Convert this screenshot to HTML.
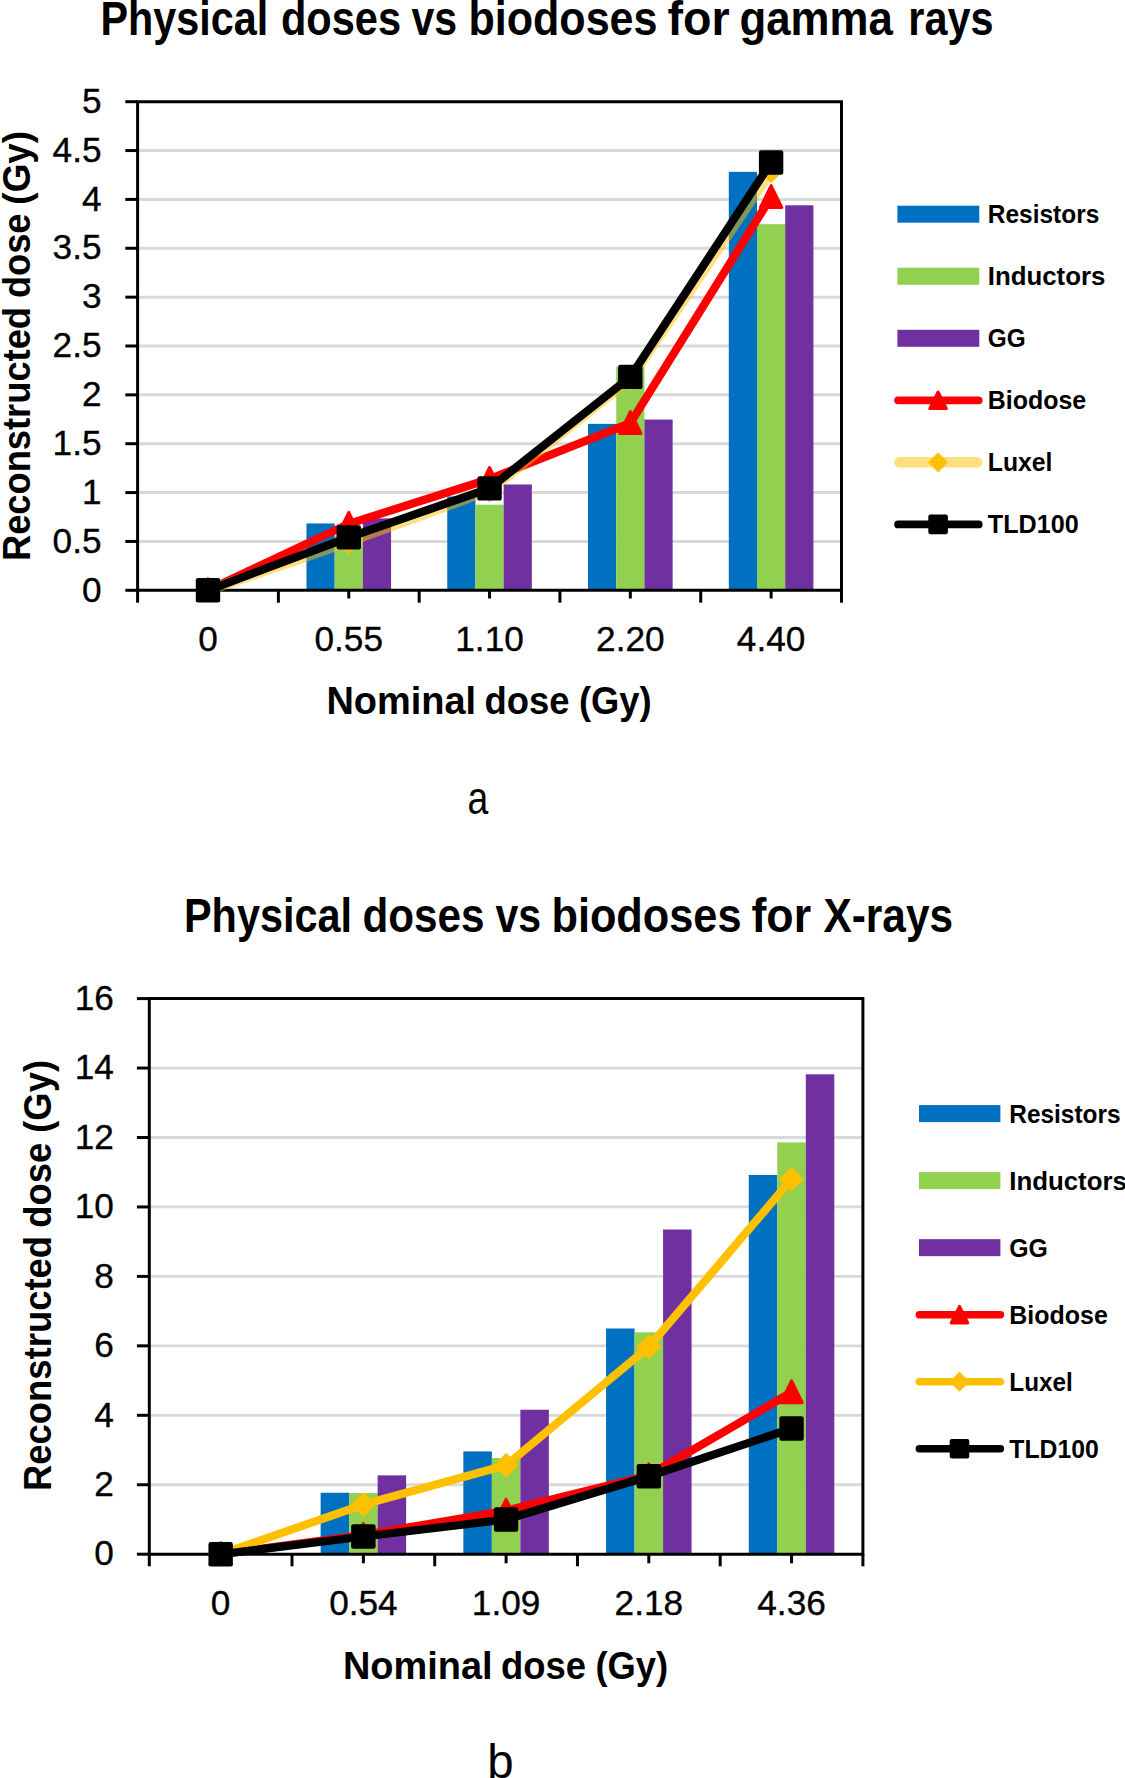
<!DOCTYPE html><html><head><meta charset="utf-8"><title>Physical doses vs biodoses</title><style>html,body{margin:0;padding:0;background:#fff;overflow:hidden}svg{display:block}</style></head><body>
<svg width="1125" height="1778" viewBox="0 0 1125 1778" font-family='"Liberation Sans", Arial, sans-serif' fill="#000">
<rect width="1125" height="1778" fill="#fff"/>
<line x1="137.6" y1="541.44" x2="841.5" y2="541.44" stroke="#D9D9D9" stroke-width="3"/>
<line x1="137.6" y1="492.58" x2="841.5" y2="492.58" stroke="#D9D9D9" stroke-width="3"/>
<line x1="137.6" y1="443.72" x2="841.5" y2="443.72" stroke="#D9D9D9" stroke-width="3"/>
<line x1="137.6" y1="394.86" x2="841.5" y2="394.86" stroke="#D9D9D9" stroke-width="3"/>
<line x1="137.6" y1="346" x2="841.5" y2="346" stroke="#D9D9D9" stroke-width="3"/>
<line x1="137.6" y1="297.14" x2="841.5" y2="297.14" stroke="#D9D9D9" stroke-width="3"/>
<line x1="137.6" y1="248.28" x2="841.5" y2="248.28" stroke="#D9D9D9" stroke-width="3"/>
<line x1="137.6" y1="199.42" x2="841.5" y2="199.42" stroke="#D9D9D9" stroke-width="3"/>
<line x1="137.6" y1="150.56" x2="841.5" y2="150.56" stroke="#D9D9D9" stroke-width="3"/>
<rect x="306.47" y="523.46" width="28.2" height="66.84" fill="#0070C0"/>
<rect x="447.25" y="496.49" width="28.2" height="93.81" fill="#0070C0"/>
<rect x="588.03" y="423.88" width="28.2" height="166.42" fill="#0070C0"/>
<rect x="728.81" y="171.86" width="28.2" height="418.44" fill="#0070C0"/>
<rect x="334.67" y="535.58" width="28.2" height="54.72" fill="#92D050"/>
<rect x="475.45" y="504.7" width="28.2" height="85.6" fill="#92D050"/>
<rect x="616.23" y="366.72" width="28.2" height="223.58" fill="#92D050"/>
<rect x="757.01" y="224.14" width="28.2" height="366.16" fill="#92D050"/>
<rect x="362.87" y="518.38" width="28.2" height="71.92" fill="#7030A0"/>
<rect x="503.65" y="484.47" width="28.2" height="105.83" fill="#7030A0"/>
<rect x="644.43" y="419.58" width="28.2" height="170.72" fill="#7030A0"/>
<rect x="785.21" y="205.28" width="28.2" height="385.02" fill="#7030A0"/>
<g stroke="#000" stroke-width="3" fill="none" stroke-linecap="butt">
<path d="M137.6 101.7H841.5V590.3H137.6Z"/>
<line x1="125.3" y1="590.3" x2="137.6" y2="590.3"/>
<line x1="125.3" y1="541.44" x2="137.6" y2="541.44"/>
<line x1="125.3" y1="492.58" x2="137.6" y2="492.58"/>
<line x1="125.3" y1="443.72" x2="137.6" y2="443.72"/>
<line x1="125.3" y1="394.86" x2="137.6" y2="394.86"/>
<line x1="125.3" y1="346" x2="137.6" y2="346"/>
<line x1="125.3" y1="297.14" x2="137.6" y2="297.14"/>
<line x1="125.3" y1="248.28" x2="137.6" y2="248.28"/>
<line x1="125.3" y1="199.42" x2="137.6" y2="199.42"/>
<line x1="125.3" y1="150.56" x2="137.6" y2="150.56"/>
<line x1="125.3" y1="101.7" x2="137.6" y2="101.7"/>
<line x1="137.6" y1="590.3" x2="137.6" y2="602.7"/>
<line x1="278.38" y1="590.3" x2="278.38" y2="602.7"/>
<line x1="419.16" y1="590.3" x2="419.16" y2="602.7"/>
<line x1="559.94" y1="590.3" x2="559.94" y2="602.7"/>
<line x1="700.72" y1="590.3" x2="700.72" y2="602.7"/>
<line x1="841.5" y1="590.3" x2="841.5" y2="602.7"/>
<line x1="207.99" y1="590.3" x2="207.99" y2="598.5"/>
<line x1="348.77" y1="590.3" x2="348.77" y2="598.5"/>
<line x1="489.55" y1="590.3" x2="489.55" y2="598.5"/>
<line x1="630.33" y1="590.3" x2="630.33" y2="598.5"/>
<line x1="771.11" y1="590.3" x2="771.11" y2="598.5"/>
</g>
<g>
<polyline points="207.99,590.3 348.77,523.85 489.55,479 630.33,423.1 771.11,197.17" fill="none" stroke="#FF0000" stroke-width="8.2" stroke-linejoin="round" stroke-linecap="round"/>
</g>
<polygon points="207.99,578.8 218.69,600.6 197.29,600.6" fill="#FF0000" stroke="#FF0000" stroke-width="3" stroke-linejoin="round"/>
<polygon points="348.77,512.35 359.47,534.15 338.07,534.15" fill="#FF0000" stroke="#FF0000" stroke-width="3" stroke-linejoin="round"/>
<polygon points="489.55,467.5 500.25,489.3 478.85,489.3" fill="#FF0000" stroke="#FF0000" stroke-width="3" stroke-linejoin="round"/>
<polygon points="630.33,411.6 641.03,433.4 619.63,433.4" fill="#FF0000" stroke="#FF0000" stroke-width="3" stroke-linejoin="round"/>
<polygon points="771.11,185.67 781.81,207.47 760.41,207.47" fill="#FF0000" stroke="#FF0000" stroke-width="3" stroke-linejoin="round"/>
<g opacity="0.5">
<polyline points="207.99,590.3 348.77,541.64 489.55,490.04 630.33,378.64 771.11,170.69" fill="none" stroke="#FFC000" stroke-width="10.5" stroke-linejoin="round" stroke-linecap="round"/>
</g>
<polygon points="207.99,578.7 219.59,590.3 207.99,601.9 196.39,590.3" fill="#FFC000" stroke="#FFC000" stroke-width="1.2" stroke-linejoin="round"/>
<polygon points="348.77,530.04 360.37,541.64 348.77,553.24 337.17,541.64" fill="#FFC000" stroke="#FFC000" stroke-width="1.2" stroke-linejoin="round"/>
<polygon points="489.55,478.44 501.15,490.04 489.55,501.64 477.95,490.04" fill="#FFC000" stroke="#FFC000" stroke-width="1.2" stroke-linejoin="round"/>
<polygon points="630.33,367.04 641.93,378.64 630.33,390.24 618.73,378.64" fill="#FFC000" stroke="#FFC000" stroke-width="1.2" stroke-linejoin="round"/>
<polygon points="771.11,159.09 782.71,170.69 771.11,182.29 759.51,170.69" fill="#FFC000" stroke="#FFC000" stroke-width="1.2" stroke-linejoin="round"/>
<g>
<polyline points="207.99,590.3 348.77,537.34 489.55,488.38 630.33,376.88 771.11,162.48" fill="none" stroke="#000" stroke-width="8.2" stroke-linejoin="round" stroke-linecap="round"/>
</g>
<rect x="195.79" y="578.1" width="24.4" height="24.4" rx="2.2" fill="#000"/>
<rect x="336.57" y="525.14" width="24.4" height="24.4" rx="2.2" fill="#000"/>
<rect x="477.35" y="476.18" width="24.4" height="24.4" rx="2.2" fill="#000"/>
<rect x="618.13" y="364.68" width="24.4" height="24.4" rx="2.2" fill="#000"/>
<rect x="758.91" y="150.28" width="24.4" height="24.4" rx="2.2" fill="#000"/>
<text x="101.5" y="601.5" font-size="35.2" font-weight="normal" text-anchor="end" stroke="#000" stroke-width="0.35">0</text>
<text x="101.5" y="552.64" font-size="35.2" font-weight="normal" text-anchor="end" stroke="#000" stroke-width="0.35">0.5</text>
<text x="101.5" y="503.78" font-size="35.2" font-weight="normal" text-anchor="end" stroke="#000" stroke-width="0.35">1</text>
<text x="101.5" y="454.92" font-size="35.2" font-weight="normal" text-anchor="end" stroke="#000" stroke-width="0.35">1.5</text>
<text x="101.5" y="406.06" font-size="35.2" font-weight="normal" text-anchor="end" stroke="#000" stroke-width="0.35">2</text>
<text x="101.5" y="357.2" font-size="35.2" font-weight="normal" text-anchor="end" stroke="#000" stroke-width="0.35">2.5</text>
<text x="101.5" y="308.34" font-size="35.2" font-weight="normal" text-anchor="end" stroke="#000" stroke-width="0.35">3</text>
<text x="101.5" y="259.48" font-size="35.2" font-weight="normal" text-anchor="end" stroke="#000" stroke-width="0.35">3.5</text>
<text x="101.5" y="210.62" font-size="35.2" font-weight="normal" text-anchor="end" stroke="#000" stroke-width="0.35">4</text>
<text x="101.5" y="161.76" font-size="35.2" font-weight="normal" text-anchor="end" stroke="#000" stroke-width="0.35">4.5</text>
<text x="101.5" y="112.9" font-size="35.2" font-weight="normal" text-anchor="end" stroke="#000" stroke-width="0.35">5</text>
<text x="207.99" y="651" font-size="35.2" font-weight="normal" text-anchor="middle" stroke="#000" stroke-width="0.35">0</text>
<text x="348.77" y="651" font-size="35.2" font-weight="normal" text-anchor="middle" stroke="#000" stroke-width="0.35">0.55</text>
<text x="489.55" y="651" font-size="35.2" font-weight="normal" text-anchor="middle" stroke="#000" stroke-width="0.35">1.10</text>
<text x="630.33" y="651" font-size="35.2" font-weight="normal" text-anchor="middle" stroke="#000" stroke-width="0.35">2.20</text>
<text x="771.11" y="651" font-size="35.2" font-weight="normal" text-anchor="middle" stroke="#000" stroke-width="0.35">4.40</text>
<rect x="897.4" y="205.7" width="81.9" height="17" fill="#0070C0"/>
<text x="987.8" y="223.2" font-size="26.5" font-weight="bold" text-anchor="start" textLength="111.5" lengthAdjust="spacingAndGlyphs">Resistors</text>
<rect x="897.4" y="267.74" width="81.9" height="17" fill="#92D050"/>
<text x="987.8" y="285.24" font-size="26.5" font-weight="bold" text-anchor="start" textLength="117.6" lengthAdjust="spacingAndGlyphs">Inductors</text>
<rect x="897.4" y="329.78" width="81.9" height="17" fill="#7030A0"/>
<text x="987.8" y="347.28" font-size="26.5" font-weight="bold" text-anchor="start" textLength="37.9" lengthAdjust="spacingAndGlyphs">GG</text>
<g><line x1="898.1" y1="400.32" x2="978.7" y2="400.32" stroke="#FF0000" stroke-width="7.8" stroke-linecap="round"/></g>
<polygon points="938.1,392.02 946.4,408.62 929.8,408.62" fill="#FF0000" stroke="#FF0000" stroke-width="3" stroke-linejoin="round"/>
<text x="987.8" y="409.32" font-size="26.5" font-weight="bold" text-anchor="start" textLength="98.4" lengthAdjust="spacingAndGlyphs">Biodose</text>
<g opacity="0.5"><line x1="899.45" y1="462.36" x2="977.35" y2="462.36" stroke="#FFC000" stroke-width="10.5" stroke-linecap="round"/></g>
<polygon points="938.1,453.16 947.3,462.36 938.1,471.56 928.9,462.36" fill="#FFC000" stroke="#FFC000" stroke-width="1.2" stroke-linejoin="round"/>
<text x="987.8" y="471.36" font-size="26.5" font-weight="bold" text-anchor="start" textLength="64.7" lengthAdjust="spacingAndGlyphs">Luxel</text>
<g><line x1="898.1" y1="524.4" x2="978.7" y2="524.4" stroke="#000" stroke-width="7.8" stroke-linecap="round"/></g>
<rect x="928.3" y="514.6" width="19.6" height="19.6" rx="2.2" fill="#000"/>
<text x="987.8" y="533.4" font-size="26.5" font-weight="bold" text-anchor="start" textLength="90.9" lengthAdjust="spacingAndGlyphs">TLD100</text>
<text x="477.85" y="813.5" font-size="45.5" font-weight="normal" text-anchor="middle" textLength="20.8" lengthAdjust="spacingAndGlyphs">a</text>
<line x1="149.3" y1="1484.75" x2="862.9" y2="1484.75" stroke="#D9D9D9" stroke-width="2.8"/>
<line x1="149.3" y1="1415.3" x2="862.9" y2="1415.3" stroke="#D9D9D9" stroke-width="2.8"/>
<line x1="149.3" y1="1345.85" x2="862.9" y2="1345.85" stroke="#D9D9D9" stroke-width="2.8"/>
<line x1="149.3" y1="1276.4" x2="862.9" y2="1276.4" stroke="#D9D9D9" stroke-width="2.8"/>
<line x1="149.3" y1="1206.95" x2="862.9" y2="1206.95" stroke="#D9D9D9" stroke-width="2.8"/>
<line x1="149.3" y1="1137.5" x2="862.9" y2="1137.5" stroke="#D9D9D9" stroke-width="2.8"/>
<line x1="149.3" y1="1068.05" x2="862.9" y2="1068.05" stroke="#D9D9D9" stroke-width="2.8"/>
<rect x="320.63" y="1492.74" width="28.5" height="61.46" fill="#0070C0"/>
<rect x="463.35" y="1451.41" width="28.5" height="102.79" fill="#0070C0"/>
<rect x="606.07" y="1328.49" width="28.5" height="225.71" fill="#0070C0"/>
<rect x="748.79" y="1175" width="28.5" height="379.2" fill="#0070C0"/>
<rect x="349.13" y="1493.08" width="28.5" height="61.12" fill="#92D050"/>
<rect x="491.85" y="1458.01" width="28.5" height="96.19" fill="#92D050"/>
<rect x="634.57" y="1332.31" width="28.5" height="221.89" fill="#92D050"/>
<rect x="777.29" y="1142.36" width="28.5" height="411.84" fill="#92D050"/>
<rect x="377.63" y="1475.37" width="28.5" height="78.83" fill="#7030A0"/>
<rect x="520.35" y="1409.74" width="28.5" height="144.46" fill="#7030A0"/>
<rect x="663.07" y="1229.52" width="28.5" height="324.68" fill="#7030A0"/>
<rect x="805.79" y="1074.3" width="28.5" height="479.9" fill="#7030A0"/>
<g stroke="#000" stroke-width="3" fill="none" stroke-linecap="butt">
<path d="M149.3 998.6H862.9V1554.2H149.3Z"/>
<line x1="136.9" y1="1554.2" x2="149.3" y2="1554.2"/>
<line x1="136.9" y1="1484.75" x2="149.3" y2="1484.75"/>
<line x1="136.9" y1="1415.3" x2="149.3" y2="1415.3"/>
<line x1="136.9" y1="1345.85" x2="149.3" y2="1345.85"/>
<line x1="136.9" y1="1276.4" x2="149.3" y2="1276.4"/>
<line x1="136.9" y1="1206.95" x2="149.3" y2="1206.95"/>
<line x1="136.9" y1="1137.5" x2="149.3" y2="1137.5"/>
<line x1="136.9" y1="1068.05" x2="149.3" y2="1068.05"/>
<line x1="136.9" y1="998.6" x2="149.3" y2="998.6"/>
<line x1="149.3" y1="1554.2" x2="149.3" y2="1566.3"/>
<line x1="292.02" y1="1554.2" x2="292.02" y2="1566.3"/>
<line x1="434.74" y1="1554.2" x2="434.74" y2="1566.3"/>
<line x1="577.46" y1="1554.2" x2="577.46" y2="1566.3"/>
<line x1="720.18" y1="1554.2" x2="720.18" y2="1566.3"/>
<line x1="862.9" y1="1554.2" x2="862.9" y2="1566.3"/>
<line x1="220.66" y1="1554.2" x2="220.66" y2="1563.3"/>
<line x1="363.38" y1="1554.2" x2="363.38" y2="1563.3"/>
<line x1="506.1" y1="1554.2" x2="506.1" y2="1563.3"/>
<line x1="648.82" y1="1554.2" x2="648.82" y2="1563.3"/>
<line x1="791.54" y1="1554.2" x2="791.54" y2="1563.3"/>
</g>
<g>
<polyline points="220.66,1554.2 363.38,1535.1 506.1,1510.79 648.82,1475.37 791.54,1392.38" fill="none" stroke="#FF0000" stroke-width="8.2" stroke-linejoin="round" stroke-linecap="round"/>
</g>
<polygon points="220.66,1542.7 231.36,1564.5 209.96,1564.5" fill="#FF0000" stroke="#FF0000" stroke-width="3" stroke-linejoin="round"/>
<polygon points="363.38,1523.6 374.08,1545.4 352.68,1545.4" fill="#FF0000" stroke="#FF0000" stroke-width="3" stroke-linejoin="round"/>
<polygon points="506.1,1499.29 516.8,1521.09 495.4,1521.09" fill="#FF0000" stroke="#FF0000" stroke-width="3" stroke-linejoin="round"/>
<polygon points="648.82,1463.87 659.52,1485.67 638.12,1485.67" fill="#FF0000" stroke="#FF0000" stroke-width="3" stroke-linejoin="round"/>
<polygon points="791.54,1380.88 802.24,1402.68 780.84,1402.68" fill="#FF0000" stroke="#FF0000" stroke-width="3" stroke-linejoin="round"/>
<g>
<polyline points="220.66,1554.2 363.38,1504.54 506.1,1465.3 648.82,1346.89 791.54,1179.17" fill="none" stroke="#FFC000" stroke-width="8.2" stroke-linejoin="round" stroke-linecap="round"/>
</g>
<polygon points="220.66,1542.6 232.26,1554.2 220.66,1565.8 209.06,1554.2" fill="#FFC000" stroke="#FFC000" stroke-width="1.2" stroke-linejoin="round"/>
<polygon points="363.38,1492.94 374.98,1504.54 363.38,1516.14 351.78,1504.54" fill="#FFC000" stroke="#FFC000" stroke-width="1.2" stroke-linejoin="round"/>
<polygon points="506.1,1453.7 517.7,1465.3 506.1,1476.9 494.5,1465.3" fill="#FFC000" stroke="#FFC000" stroke-width="1.2" stroke-linejoin="round"/>
<polygon points="648.82,1335.29 660.42,1346.89 648.82,1358.49 637.22,1346.89" fill="#FFC000" stroke="#FFC000" stroke-width="1.2" stroke-linejoin="round"/>
<polygon points="791.54,1167.57 803.14,1179.17 791.54,1190.77 779.94,1179.17" fill="#FFC000" stroke="#FFC000" stroke-width="1.2" stroke-linejoin="round"/>
<g>
<polyline points="220.66,1554.2 363.38,1536.49 506.1,1519.48 648.82,1476.24 791.54,1428.5" fill="none" stroke="#000" stroke-width="8.2" stroke-linejoin="round" stroke-linecap="round"/>
</g>
<rect x="208.46" y="1542" width="24.4" height="24.4" rx="2.2" fill="#000"/>
<rect x="351.18" y="1524.29" width="24.4" height="24.4" rx="2.2" fill="#000"/>
<rect x="493.9" y="1507.28" width="24.4" height="24.4" rx="2.2" fill="#000"/>
<rect x="636.62" y="1464.04" width="24.4" height="24.4" rx="2.2" fill="#000"/>
<rect x="779.34" y="1416.3" width="24.4" height="24.4" rx="2.2" fill="#000"/>
<text x="113.8" y="1565.4" font-size="35.2" font-weight="normal" text-anchor="end" stroke="#000" stroke-width="0.35">0</text>
<text x="113.8" y="1495.95" font-size="35.2" font-weight="normal" text-anchor="end" stroke="#000" stroke-width="0.35">2</text>
<text x="113.8" y="1426.5" font-size="35.2" font-weight="normal" text-anchor="end" stroke="#000" stroke-width="0.35">4</text>
<text x="113.8" y="1357.05" font-size="35.2" font-weight="normal" text-anchor="end" stroke="#000" stroke-width="0.35">6</text>
<text x="113.8" y="1287.6" font-size="35.2" font-weight="normal" text-anchor="end" stroke="#000" stroke-width="0.35">8</text>
<text x="113.8" y="1218.15" font-size="35.2" font-weight="normal" text-anchor="end" stroke="#000" stroke-width="0.35">10</text>
<text x="113.8" y="1148.7" font-size="35.2" font-weight="normal" text-anchor="end" stroke="#000" stroke-width="0.35">12</text>
<text x="113.8" y="1079.25" font-size="35.2" font-weight="normal" text-anchor="end" stroke="#000" stroke-width="0.35">14</text>
<text x="113.8" y="1009.8" font-size="35.2" font-weight="normal" text-anchor="end" stroke="#000" stroke-width="0.35">16</text>
<text x="220.66" y="1615" font-size="35.2" font-weight="normal" text-anchor="middle" stroke="#000" stroke-width="0.35">0</text>
<text x="363.38" y="1615" font-size="35.2" font-weight="normal" text-anchor="middle" stroke="#000" stroke-width="0.35">0.54</text>
<text x="506.1" y="1615" font-size="35.2" font-weight="normal" text-anchor="middle" stroke="#000" stroke-width="0.35">1.09</text>
<text x="648.82" y="1615" font-size="35.2" font-weight="normal" text-anchor="middle" stroke="#000" stroke-width="0.35">2.18</text>
<text x="791.54" y="1615" font-size="35.2" font-weight="normal" text-anchor="middle" stroke="#000" stroke-width="0.35">4.36</text>
<rect x="919" y="1105.1" width="81.4" height="17" fill="#0070C0"/>
<text x="1009.3" y="1122.8" font-size="26.5" font-weight="bold" text-anchor="start" textLength="111.2" lengthAdjust="spacingAndGlyphs">Resistors</text>
<rect x="919" y="1172.13" width="81.4" height="17" fill="#92D050"/>
<text x="1009.3" y="1189.83" font-size="26.5" font-weight="bold" text-anchor="start" textLength="117.5" lengthAdjust="spacingAndGlyphs">Inductors</text>
<rect x="919" y="1239.16" width="81.4" height="17" fill="#7030A0"/>
<text x="1009.3" y="1256.86" font-size="26.5" font-weight="bold" text-anchor="start" textLength="38.6" lengthAdjust="spacingAndGlyphs">GG</text>
<g><line x1="919.3" y1="1314.69" x2="1000.5" y2="1314.69" stroke="#FF0000" stroke-width="7.4" stroke-linecap="round"/></g>
<polygon points="959.5,1306.39 967.8,1322.99 951.2,1322.99" fill="#FF0000" stroke="#FF0000" stroke-width="3" stroke-linejoin="round"/>
<text x="1009.3" y="1323.89" font-size="26.5" font-weight="bold" text-anchor="start" textLength="98.5" lengthAdjust="spacingAndGlyphs">Biodose</text>
<g><line x1="919.3" y1="1381.72" x2="1000.5" y2="1381.72" stroke="#FFC000" stroke-width="7.4" stroke-linecap="round"/></g>
<polygon points="959.5,1372.52 968.7,1381.72 959.5,1390.92 950.3,1381.72" fill="#FFC000" stroke="#FFC000" stroke-width="1.2" stroke-linejoin="round"/>
<text x="1009.3" y="1390.92" font-size="26.5" font-weight="bold" text-anchor="start" textLength="63.5" lengthAdjust="spacingAndGlyphs">Luxel</text>
<g><line x1="919.3" y1="1448.75" x2="1000.5" y2="1448.75" stroke="#000" stroke-width="7.4" stroke-linecap="round"/></g>
<rect x="949.7" y="1438.95" width="19.6" height="19.6" rx="2.2" fill="#000"/>
<text x="1009.3" y="1457.95" font-size="26.5" font-weight="bold" text-anchor="start" textLength="89.5" lengthAdjust="spacingAndGlyphs">TLD100</text>
<text x="500.5" y="1777.5" font-size="47.5" font-weight="normal" text-anchor="middle">b</text>
<text x="100.41" y="34.8" font-size="47.5" font-weight="bold" textLength="167.71" lengthAdjust="spacingAndGlyphs">Physical</text>
<text x="280.95" y="34.8" font-size="47.5" font-weight="bold" textLength="120.09" lengthAdjust="spacingAndGlyphs">doses</text>
<text x="411.47" y="34.8" font-size="47.5" font-weight="bold" textLength="45.6" lengthAdjust="spacingAndGlyphs">vs</text>
<text x="468.42" y="34.8" font-size="47.5" font-weight="bold" textLength="189.11" lengthAdjust="spacingAndGlyphs">biodoses</text>
<text x="667.47" y="34.8" font-size="47.5" font-weight="bold" textLength="62.08" lengthAdjust="spacingAndGlyphs">for</text>
<text x="739.48" y="34.8" font-size="47.5" font-weight="bold" textLength="153.26" lengthAdjust="spacingAndGlyphs">gamma</text>
<text x="908.32" y="34.8" font-size="47.5" font-weight="bold" textLength="85.28" lengthAdjust="spacingAndGlyphs">rays</text>
<text x="183.93" y="931.9" font-size="47.5" font-weight="bold" textLength="168.19" lengthAdjust="spacingAndGlyphs">Physical</text>
<text x="362.46" y="931.9" font-size="47.5" font-weight="bold" textLength="122.09" lengthAdjust="spacingAndGlyphs">doses</text>
<text x="495.47" y="931.9" font-size="47.5" font-weight="bold" textLength="45.63" lengthAdjust="spacingAndGlyphs">vs</text>
<text x="551.43" y="931.9" font-size="47.5" font-weight="bold" textLength="190.11" lengthAdjust="spacingAndGlyphs">biodoses</text>
<text x="751.48" y="931.9" font-size="47.5" font-weight="bold" textLength="59.56" lengthAdjust="spacingAndGlyphs">for</text>
<text x="823.48" y="931.9" font-size="47.5" font-weight="bold" textLength="129.56" lengthAdjust="spacingAndGlyphs">X-rays</text>
<text x="326.42" y="714" font-size="39" font-weight="bold" textLength="149.66" lengthAdjust="spacingAndGlyphs">Nominal</text>
<text x="484.43" y="714" font-size="39" font-weight="bold" textLength="85.09" lengthAdjust="spacingAndGlyphs">dose</text>
<text x="578.89" y="714" font-size="39" font-weight="bold" textLength="72.72" lengthAdjust="spacingAndGlyphs">(Gy)</text>
<text x="342.89" y="1678.7" font-size="39" font-weight="bold" textLength="149.7" lengthAdjust="spacingAndGlyphs">Nominal</text>
<text x="500.94" y="1678.7" font-size="39" font-weight="bold" textLength="85.09" lengthAdjust="spacingAndGlyphs">dose</text>
<text x="595.41" y="1678.7" font-size="39" font-weight="bold" textLength="72.72" lengthAdjust="spacingAndGlyphs">(Gy)</text>
<text transform="translate(29.6 561.05) rotate(-90)" font-size="39" font-weight="bold" textLength="254.06" lengthAdjust="spacingAndGlyphs">Reconstructed</text>
<text transform="translate(29.6 298.06) rotate(-90)" font-size="39" font-weight="bold" textLength="84.58" lengthAdjust="spacingAndGlyphs">dose</text>
<text transform="translate(29.6 204.66) rotate(-90)" font-size="39" font-weight="bold" textLength="73.8" lengthAdjust="spacingAndGlyphs">(Gy)</text>
<text transform="translate(50.8 1491.05) rotate(-90)" font-size="39" font-weight="bold" textLength="255.18" lengthAdjust="spacingAndGlyphs">Reconstructed</text>
<text transform="translate(50.8 1227.75) rotate(-90)" font-size="39" font-weight="bold" textLength="84.92" lengthAdjust="spacingAndGlyphs">dose</text>
<text transform="translate(50.8 1132.77) rotate(-90)" font-size="39" font-weight="bold" textLength="72.87" lengthAdjust="spacingAndGlyphs">(Gy)</text>
</svg></body></html>
